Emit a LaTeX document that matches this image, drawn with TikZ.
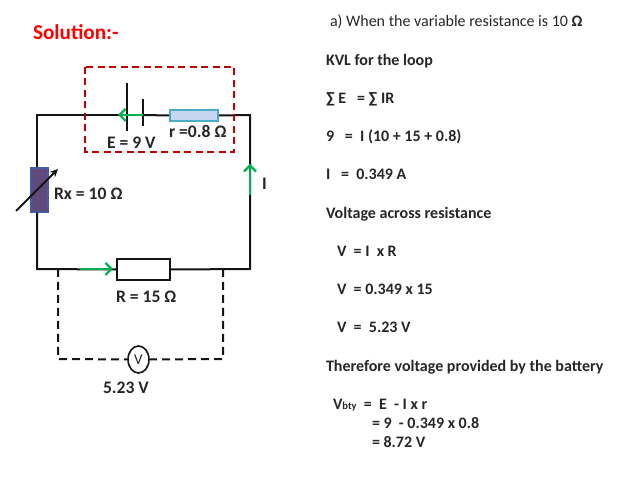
\documentclass[tikz,border=0pt]{standalone}
\usepackage{fontspec}
\setmainfont{Carlito}
\usetikzlibrary{arrows.meta,shapes.geometric}
\definecolor{gr}{RGB}{0,176,80}
\definecolor{rd}{RGB}{192,0,0}
\definecolor{wirec}{RGB}{20,20,20}
\definecolor{txt}{RGB}{38,38,38}
\definecolor{rxfill}{RGB}{96,74,123}
\definecolor{rxedge}{RGB}{70,90,160}
\definecolor{rfill}{RGB}{198,214,240}
\definecolor{redge}{RGB}{75,172,198}
\tikzset{
  x=1pt,y=-1pt,
  wire/.style={draw=wirec,line width=2pt},
  dashwire/.style={draw=wirec,line width=2pt,dash pattern=on 8pt off 5pt},
  flow/.style={draw=gr,line width=2.2pt,-{Straight Barb[length=6pt,width=12pt,line width=2.2pt]}},
  lbl/.style={anchor=base west,inner sep=0pt,outer sep=0pt,font=\fontsize{16}{18}\selectfont\bfseries,text=txt},
  clbl/.style={lbl,font=\fontsize{17.6}{20}\selectfont\bfseries},
  res/.style={draw,rectangle,inner sep=0pt,anchor=center},
}
\begin{document}
\begin{tikzpicture}
\useasboundingbox (0,0) rectangle (638,478);
% corners
\coordinate (tl) at (37,115);
\coordinate (tr) at (250,115);
\coordinate (br) at (250,269);
\coordinate (bl) at (37,269);
\coordinate (batL) at (127,115);
\coordinate (batS) at (143,115);
\coordinate (dl) at (58,269);
\coordinate (dr) at (223,269);
\coordinate (dlb) at (58,359);
\coordinate (drb) at (223,359);
\node[res,name=rint,draw=redge,fill=rfill,line width=1.6pt,minimum width=48pt,minimum height=11pt] at (194,115.5) {};
\node[res,name=rx,draw=rxedge,fill=rxfill,line width=1.4pt,minimum width=17pt,minimum height=44pt] at (39.5,190) {};
\node[res,name=rs,draw=wirec,fill=white,line width=2pt,minimum width=53pt,minimum height=21pt] at (143.5,269.5) {};
\node[draw=wirec,ellipse,fill=white,line width=1.6pt,minimum width=21pt,minimum height=27pt,inner sep=0pt,text=txt,font=\fontsize{15}{16}\selectfont,name=vm] at (138.5,359.5) {V};
% wires
\draw[wire,line join=miter] (batL) -- (tl) -- (rx.north -| tl);
\draw[wire] (rx.south -| tl) -- (bl) -- (rs.west);
\draw[wire] (rs.east) -- (br) -- (tr) -- (rint.east);
\draw[wire] (batS) -- (rint.west);
\coordinate (pa) at (127,83);\coordinate (pb) at (127,131);
\coordinate (pc) at (143,99);\coordinate (pd) at (143,126);
\draw[wire] (pa) -- (pb);
\draw[wire] (pc) -- (pd);
% dashed voltmeter
\draw[dashwire] (dl) -- (dlb) -- (vm.west);
\draw[dashwire] (dr) -- (drb) -- (vm.east);
% enclosure
\coordinate (ea) at (85,67);\coordinate (eb) at (234,152);
\draw[draw=rd,line width=1.9pt,dash pattern=on 7pt off 4.5pt] (ea) rectangle (eb);
% arrows
\coordinate (f1a) at (143,115);\coordinate (f1b) at (118,115);
\coordinate (f2a) at (250,195);\coordinate (f2b) at (250,164);
\coordinate (f3a) at (80,269);\coordinate (f3b) at (113,269);
\coordinate (ra) at (16,211);\coordinate (rb) at (58,169);
\draw[flow] (f1a) -- (f1b);
\draw[flow] (f2a) -- (f2b);
\draw[flow] (f3a) -- (f3b);
\draw[draw=wirec,line width=2pt,-{Stealth[length=8pt,width=7.5pt]}] (ra) -- (rb);
% circuit labels
\node[clbl] (t1) at (107,148.5) {E  = 9 V};
\node[clbl] (t2) at (169,138) {r =0.8 Ω};
\node[clbl] (t3) at (54,200) {Rx = 10 Ω};
\node[clbl] (t4) at (262,190) {I};
\node[clbl] (t5) at (116,303) {R = 15 Ω};
\node[clbl] (t6) at (103,394) {5.23 V};
\node[lbl,text=red,font=\fontsize{21.2}{24}\selectfont\bfseries] (t7) at (33,40) {Solution:-};
% right column
\node[lbl] (a1) at (330,27) {\mdseries a) When the variable resistance is 10 \textbf{Ω}};
\node[lbl] (a2) at (326,65.5) {KVL for the loop};
\node[lbl] (a3) at (326,103.5) {∑ E \ \ = ∑ IR};
\node[lbl] (a4) at (326,141.5) {9 \ \ = \ I (10 + 15 + 0.8)};
\node[lbl] (a5) at (326,179.5) {I \ \ = \ 0.349 A};
\node[lbl] (a6) at (326,218.5) {Voltage across resistance};
\node[lbl] (a7) at (337,256.5) {V \ = I \ x R};
\node[lbl] (a8) at (337,294.5) {V \ = 0.349 x 15};
\node[lbl] (a9) at (337,332.5) {V \ = \ 5.23 V};
\node[lbl] (a10) at (326,371.5) {Therefore voltage provided by the battery};
\node[lbl] (a11) at (333,409.5) {V{\fontsize{10.5}{12}\selectfont bty} \ = \ E \ - I x r};
\node[lbl] (a12) at (372,428.5) {= 9 \ - 0.349 x 0.8};
\node[lbl] (a13) at (372,447.5) {= 8.72 V};
\end{tikzpicture}
\end{document}
